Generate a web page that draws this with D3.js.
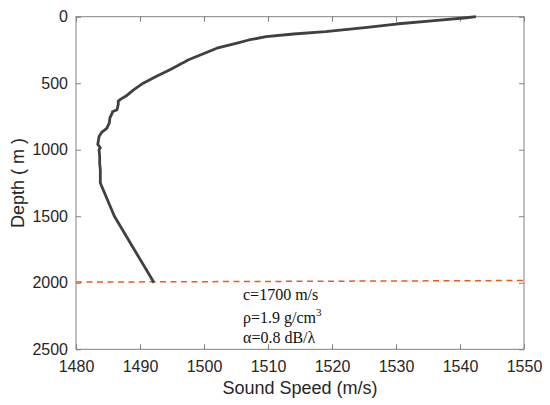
<!DOCTYPE html>
<html>
<head>
<meta charset="utf-8">
<script src="https://cdn.jsdelivr.net/npm/d3@7"></script>
<style>
  body { margin: 0; background: #fff; }
  svg { display: block; }
</style>
</head>
<body>
<div id="chart"></div>
<script>
// sound speed profile (depth in m, speed in m/s)
const depths = [0, 8, 30, 55, 80, 112, 130, 150, 175, 200, 237, 280, 325, 345, 365, 400, 450, 500,
                550, 590, 620, 635, 660, 700, 715, 730, 760, 800, 840, 870, 900, 960, 985, 1000, 1050,
                1100, 1150, 1250, 1500, 2000];
const speeds = [1542.5, 1541, 1536, 1530, 1525.5, 1519, 1514, 1509.7, 1507, 1505, 1502, 1499.8, 1497.5,
                1496.8, 1496, 1494.6, 1492.5, 1490.5, 1489, 1488, 1487, 1486.6, 1486.6, 1486.4, 1485.7,
                1485.6, 1485.3, 1485.2, 1484.8, 1484, 1483.6, 1483.4, 1483.8, 1483.6, 1483.7,
                1483.7, 1483.8, 1483.8, 1486, 1492.2];

// seabed line (dashed)
const bedSpeeds = [1480, 1550];
const bedDepths = [1995, 1983];

const xTickValues = [1480, 1490, 1500, 1510, 1520, 1530, 1540, 1550];
const yTickValues = [0, 500, 1000, 1500, 2000, 2500];

const bottomText = ["c=1700 m/s", "ρ=1.9 g/cm", "α=0.8 dB/λ"];

const W = 550, H = 405;
const plot = {left: 76, top: 16.7, right: 524, bottom: 349.3};
const axisColor = "#808080";
const textColor = "#262626";

const svg = d3.select("#chart").append("svg")
    .attr("width", W)
    .attr("height", H)
    .attr("viewBox", `0 0 ${W} ${H}`);

let x = d3.scaleLinear().domain([1480, 1550]).range([plot.left, plot.right]);
let y = d3.scaleLinear().domain([0, 2500]).range([plot.top, plot.bottom]);

/* frame: matlab-like box with inward ticks */
svg.append("rect")
    .attr("x", plot.left)
    .attr("y", plot.top)
    .attr("width", plot.right - plot.left)
    .attr("height", plot.bottom - plot.top)
    .attr("fill", "none")
    .attr("stroke", axisColor)
    .attr("stroke-width", 1);

let tickStyle = (g) => {
    g.select(".domain").remove();
    g.selectAll(".tick line").attr("stroke", axisColor);
    g.selectAll(".tick text")
        .attr("fill", textColor)
        .style("font-family", "Liberation Sans, Arial, sans-serif")
        .style("font-size", "16px");
};

// bottom axis (labels) + ticks pointing up
svg.append("g")
    .attr("transform", `translate(0, ${plot.bottom})`)
    .call(d3.axisBottom(x).tickValues(xTickValues).tickFormat(d3.format("d"))
            .tickSizeInner(-5).tickSizeOuter(0).tickPadding(11))
    .call(tickStyle);

// top ticks only
svg.append("g")
    .attr("transform", `translate(0, ${plot.top})`)
    .call(d3.axisTop(x).tickValues(xTickValues).tickFormat("").tickSizeInner(-5).tickSizeOuter(0))
    .call(tickStyle);

// left axis
svg.append("g")
    .attr("transform", `translate(${plot.left}, 0)`)
    .call(d3.axisLeft(y).tickValues(yTickValues).tickFormat(d3.format("d"))
            .tickSizeInner(-5).tickSizeOuter(0).tickPadding(8))
    .call(tickStyle);

// right ticks only
svg.append("g")
    .attr("transform", `translate(${plot.right}, 0)`)
    .call(d3.axisRight(y).tickValues(yTickValues).tickFormat("").tickSizeInner(-5).tickSizeOuter(0))
    .call(tickStyle);

/* axis labels */
svg.append("text")
    .attr("x", (plot.left + plot.right) / 2)
    .attr("y", 394)
    .attr("text-anchor", "middle")
    .attr("fill", textColor)
    .style("font-family", "Liberation Sans, Arial, sans-serif")
    .style("font-size", "18px")
    .text("Sound Speed (m/s)");

svg.append("text")
    .attr("transform", `translate(24, ${(plot.top + plot.bottom) / 2}) rotate(-90)`)
    .attr("text-anchor", "middle")
    .attr("fill", textColor)
    .style("font-family", "Liberation Sans, Arial, sans-serif")
    .style("font-size", "18px")
    .text("Depth ( m )");

/* seabed dashed line */
const bed = bedSpeeds.map((s, i) => ({s: s, d: bedDepths[i]}));
svg.append("path")
    .datum(bed)
    .attr("fill", "none")
    .attr("stroke", "#ec5a22")
    .attr("stroke-width", 1.5)
    .attr("stroke-dasharray", "6,4.5")
    .attr("d", d3.line().x(d => x(d.s)).y(d => y(d.d)));

/* profile */
const profile = depths.map((d, i) => ({s: speeds[i], d: d}));
svg.append("path")
    .datum(profile)
    .attr("fill", "none")
    .attr("stroke", "#404040")
    .attr("stroke-width", 2.8)
    .attr("stroke-linejoin", "round")
    .attr("d", d3.line().x(d => x(d.s)).y(d => y(d.d)));

/* bottom parameters */
const baselines = [300, 323, 342.5];
let notes = svg.append("g")
    .attr("fill", "#111")
    .style("font-family", "Liberation Serif, Times New Roman, serif")
    .style("font-size", "16px");
bottomText.forEach((t, i) => {
    let txt = notes.append("text")
        .attr("x", 243)
        .attr("y", baselines[i])
        .text(t);
    if (i === 1) {
        txt.append("tspan")
            .attr("dy", -7)
            .style("font-size", "11px")
            .text("3");
    }
});
</script>
</body>
</html>
